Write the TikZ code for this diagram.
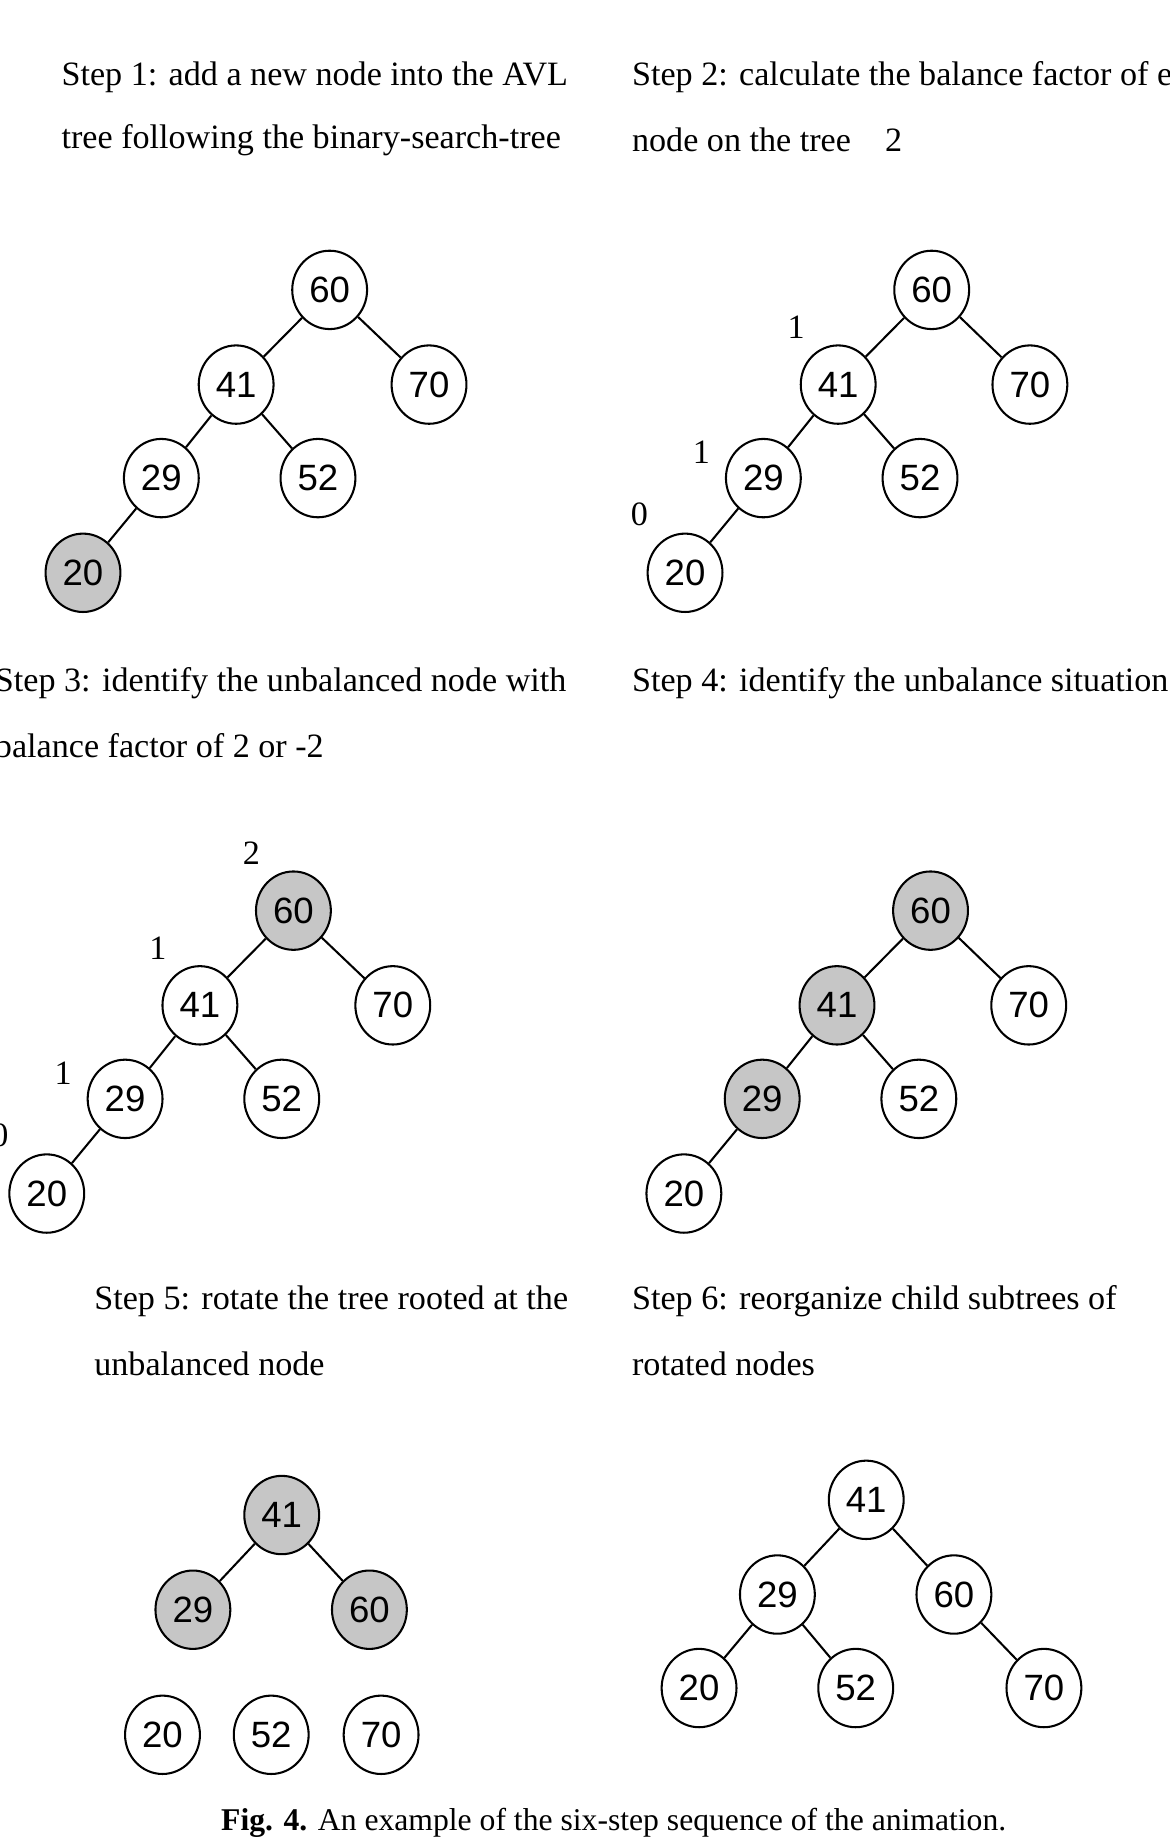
\documentclass[tikz,border=0pt]{standalone}
\usepackage{fontspec}
\usetikzlibrary{shapes.geometric}
\setmainfont{Liberation Serif}
\newfontfamily\numfont{Liberation Sans}
\begin{document}
\begin{tikzpicture}[x=0.01cm,y=-0.01cm,
  tn/.style={draw,line width=0.5pt,ellipse,minimum width=0.64cm,minimum height=0.67cm,inner sep=0pt,font=\numfont\fontsize{8.9}{10}\selectfont},
  hi/.style={tn,fill=gray!45},
  txt/.style={anchor=west,font=\fontsize{8.3}{9}\selectfont,inner sep=0pt},
  bf/.style={font=\fontsize{8.3}{9}\selectfont,inner sep=0pt},
  ed/.style={line width=0.5pt}]
\useasboundingbox (0,-3) rectangle (1000,1571);
\clip (0,-3) rectangle (1000,1571);
% texts
\node[txt] (t1a) at (52,63) {Step 1: add a new node into the AVL};
\node[txt] (t1b) at (52,117) {tree following the binary-search-tree};
\node[txt] (t2a) at (540,63) {Step 2: calculate the balance factor of each};
\node[txt] (t2b) at (540,117) {node on the tree\quad 2};
\node[txt] (t3a) at (-5,581) {Step 3: identify the unbalanced node with};
\node[txt] (t3b) at (-5,635) {balance factor of 2 or -2};
\node[txt] (t4a) at (540,581) {Step 4: identify the unbalance situation};
\node[txt] (t5a) at (80,1110) {Step 5: rotate the tree rooted at the};
\node[txt] (t5b) at (80,1164) {unbalanced node};
\node[txt] (t6a) at (540,1110) {Step 6: reorganize child subtrees of};
\node[txt] (t6b) at (540,1164) {rotated nodes};
\node[font=\fontsize{7.7}{8}\selectfont,inner sep=0pt] (cap) at (525,1556) {\textbf{Fig. 4.} An example of the six-step sequence of the animation.};
% panel 1
\node[tn] (a60) at (282,245) {60};
\node[tn] (a41) at (202,326) {41};
\node[tn] (a70) at (367,326) {70};
\node[tn] (a29) at (138,406) {29};
\node[tn] (a52) at (272,406) {52};
\node[hi] (a20) at (71,487) {20};
\draw[ed] (a60)--(a41) (a60)--(a70) (a41)--(a29) (a41)--(a52) (a29)--(a20);
% panel 2
\node[tn] (b60) at (797,245) {60};
\node[tn] (b41) at (717,326) {41};
\node[tn] (b70) at (881,326) {70};
\node[tn] (b29) at (653,406) {29};
\node[tn] (b52) at (787,406) {52};
\node[tn] (b20) at (586,487) {20};
\draw[ed] (b60)--(b41) (b60)--(b70) (b41)--(b29) (b41)--(b52) (b29)--(b20);
\node[bf] (bl1) at (681,277) {1};
\node[bf] (bl2) at (600,384) {1};
\node[bf] (bl3) at (547,437) {0};
% panel 3
\node[hi] (c60) at (251,776) {60};
\node[tn] (c41) at (171,857) {41};
\node[tn] (c70) at (336,857) {70};
\node[tn] (c29) at (107,937) {29};
\node[tn] (c52) at (241,937) {52};
\node[tn] (c20) at (40,1018) {20};
\draw[ed] (c60)--(c41) (c60)--(c70) (c41)--(c29) (c41)--(c52) (c29)--(c20);
\node[bf] (cl0) at (215,727) {2};
\node[bf] (cl1) at (135,808) {1};
\node[bf] (cl2) at (54,915) {1};
\node[bf] (cl3) at (0,968) {0};
% panel 4
\node[hi] (d60) at (796,776) {60};
\node[hi] (d41) at (716,857) {41};
\node[tn] (d70) at (880,857) {70};
\node[hi] (d29) at (652,937) {29};
\node[tn] (d52) at (786,937) {52};
\node[tn] (d20) at (585,1018) {20};
\draw[ed] (d60)--(d41) (d60)--(d70) (d41)--(d29) (d41)--(d52) (d29)--(d20);
% panel 5
\node[hi] (e41) at (241,1293) {41};
\node[hi] (e29) at (165,1374) {29};
\node[hi] (e60) at (316,1374) {60};
\node[tn] (e20) at (139,1481) {20};
\node[tn] (e52) at (232,1481) {52};
\node[tn] (e70) at (326,1481) {70};
\draw[ed] (e41)--(e29) (e41)--(e60);
% panel 6
\node[tn] (f41) at (741,1280) {41};
\node[tn] (f29) at (665,1361) {29};
\node[tn] (f60) at (816,1361) {60};
\node[tn] (f20) at (598,1441) {20};
\node[tn] (f52) at (732,1441) {52};
\node[tn] (f70) at (893,1441) {70};
\draw[ed] (f41)--(f29) (f41)--(f60) (f29)--(f20) (f29)--(f52) (f60)--(f70);
\end{tikzpicture}
\end{document}
